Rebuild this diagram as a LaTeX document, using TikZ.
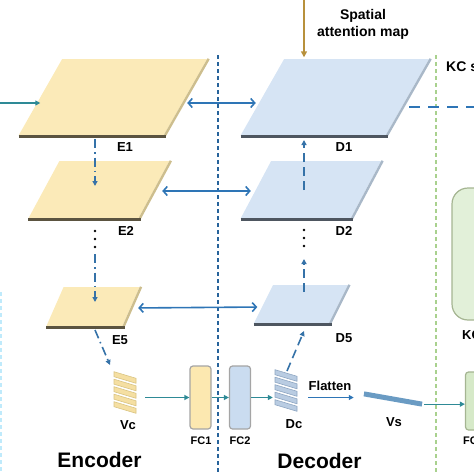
\documentclass[tikz,border=0pt]{standalone}
\usepackage{fontspec}
\setmainfont{Liberation Sans}
\usetikzlibrary{arrows.meta, positioning}
\definecolor{encfill}{HTML}{FBEAB8}
\definecolor{encbase}{HTML}{5B5440}
\definecolor{encside}{HTML}{CDBE8E}
\definecolor{decfill}{HTML}{D6E4F4}
\definecolor{decbase}{HTML}{4E5660}
\definecolor{decside}{HTML}{A9B8C8}
\definecolor{linkblue}{HTML}{2E75B6}
\definecolor{flowblue}{HTML}{3572A8}
\definecolor{flowteal}{HTML}{2E8A96}
\definecolor{gold}{HTML}{B8913C}
\definecolor{fcborder}{HTML}{A5A5A5}
\definecolor{fcenc}{HTML}{FCE8B0}
\definecolor{fcdec}{HTML}{CADCF0}
\definecolor{fckc}{HTML}{D6E9C8}
\definecolor{kcfill}{HTML}{E2F0D9}
\definecolor{kcborder}{HTML}{A5B592}
\definecolor{kcline}{HTML}{A9D18E}
\definecolor{encslat}{HTML}{F5DFA2}
\definecolor{encslatedge}{HTML}{D9C483}
\definecolor{decslat}{HTML}{B9CCE2}
\definecolor{decslatedge}{HTML}{8EA6C2}
\definecolor{vsbar}{HTML}{6A9BC3}
\tikzstyle{plane} = [rectangle, inner sep=0pt, transform shape]
\tikzstyle{enc plane} = [plane, fill=encfill]
\tikzstyle{dec plane} = [plane, fill=decfill]
\tikzstyle{enc base} = [line width=3pt, encbase]
\tikzstyle{enc side} = [line width=2.4pt, encside]
\tikzstyle{dec base} = [line width=3pt, decbase]
\tikzstyle{dec side} = [line width=2.4pt, decside]
\tikzstyle{slat} = [rectangle, inner sep=0pt, minimum width=22pt, minimum height=5pt, yslant=-0.3, line width=0.6pt]
\tikzstyle{label text} = [font=\bfseries\fontsize{13}{13}\selectfont, inner sep=0pt]
\tikzstyle{fc label} = [font=\bfseries\fontsize{11}{11}\selectfont, inner sep=0pt]
\tikzstyle{big label} = [font=\bfseries\fontsize{21}{21}\selectfont, inner sep=0pt]
\tikzstyle{fc} = [draw=fcborder, line width=1.2pt, rounded corners=3pt, minimum width=21pt, minimum height=63pt, inner sep=0pt]
\tikzstyle{skip link} = [{Straight Barb[length=4pt,width=9pt]}-{Straight Barb[length=4pt,width=9pt]}, line width=1.6pt, linkblue]
\tikzstyle{skip enc} = [-{Triangle[length=5pt,width=5pt]}, line width=1.6pt, flowblue, dash pattern=on 9pt off 4pt on 1.5pt off 4pt]
\tikzstyle{skip dec} = [-{Triangle[length=5pt,width=5pt]}, line width=1.6pt, flowblue, dash pattern=on 9pt off 5pt]
\tikzstyle{flow} = [-{Triangle[length=5pt,width=5pt]}, line width=1.3pt, flowteal]
\tikzstyle{divider} = [line width=1.2pt, dash pattern=on 4pt off 3pt]

\begin{document}
\begin{tikzpicture}[x=1pt, y=-1pt]
    \useasboundingbox (0,0) rectangle (474,474);
    \clip (0,0) rectangle (474,474);

    % Dividers.
    \node (enc top) [coordinate] at (218,55) {};
    \node (kc top) [coordinate] at (436,55) {};
    \node (left edge) [coordinate] at (1,292) {};
    \draw [divider, linkblue!85!black] (enc top) -- (enc top |- 0,476);
    \draw [divider, kcline] (kc top) -- (kc top |- 0,476);
    \draw [divider, line width=2pt, cyan!25] (left edge) -- (left edge |- 0,476);

    % Encoder planes.
    \foreach \n/\x/\y/\w/\h/\s in {E1/113/97/145/76/0.57, E2/99/189.5/110/57/0.54, E5/93/306.5/76/39/0.44} {%
        \node (\n) [enc plane, minimum width=\w pt, minimum height=\h pt, xslant=\s] at (\x,\y) {};
        \draw [enc side] ([xshift=1.2pt]\n.south east) -- ([xshift=1.2pt]\n.north east);
        \draw [enc base] ([yshift=-1.5pt]\n.south west) -- ([yshift=-1.5pt, xshift=2.4pt]\n.south east);
    }

    % Decoder planes.
    \foreach \n/\x/\y/\w/\h/\s in {D1/335/97/145/76/0.57, D2/311/189.5/110/57/0.53, D5/301/304/75/38/0.5} {%
        \node (\n) [dec plane, minimum width=\w pt, minimum height=\h pt, xslant=\s] at (\x,\y) {};
        \draw [dec side] ([xshift=1.2pt]\n.south east) -- ([xshift=1.2pt]\n.north east);
        \draw [dec base] ([yshift=-1.5pt]\n.south west) -- ([yshift=-1.5pt, xshift=2.4pt]\n.south east);
    }

    % Code stacks.
    \node (vc) [minimum width=28pt, minimum height=44pt] at (126,392) {};
    \node (dc) [minimum width=28pt, minimum height=44pt] at (287,390) {};
    \foreach \i in {1, ..., 5} {%
        \node (vc \i) [slat, fill=encslat, draw=encslatedge] at (125, {370 + 7.5*\i}) {};
        \node (dc \i) [slat, fill=decslat, draw=decslatedge] at (286, {368 + 7.5*\i}) {};
    }

    % Fully connected layers.
    \node (FC1) [fc, fill=fcenc] at (200.5,397.5) {};
    \node (FC2) [fc, fill=fcdec] at (240,397.5) {};
    \node (FC3) [fc, draw=kcborder, fill=fckc, minimum height=58pt] at (476,401) {};
    \node (vs bar) [rectangle, fill=vsbar, minimum width=59pt, minimum height=5pt, inner sep=0pt, rotate=-10] at (393,399) {};
    \node (kc box) [draw=kcborder, line width=1.2pt, fill=kcfill, rounded corners=16pt, minimum width=60pt, minimum height=132pt] at (482,254) {};

    % Labels.
    \node (E1 label) [label text] at (125,147) {E1};
    \node (E2 label) [label text] at (126,231) {E2};
    \node (E5 label) [label text] at (120,340) {E5};
    \node (D1 label) [label text] at (344,147) {D1};
    \node (D2 label) [label text] at (344,231) {D2};
    \node (D5 label) [label text] at (344,338) {D5};
    \node (vc label) [label text] at (128,425) {Vc};
    \node (dc label) [label text] at (294,424) {Dc};
    \node (vs label) [label text] at (394,422) {Vs};
    \node (flatten) [label text] at (330,386) {Flatten};
    \node (FC1 label) [fc label] at (201,441) {FC1};
    \node (FC2 label) [fc label] at (240,441) {FC2};
    \node (FC3 label) [fc label, anchor=west] at (463,441) {FC};
    \node (kc label) [label text, anchor=west] at (462,335) {KC};
    \node (kc title) [font=\bfseries\fontsize{14}{14}\selectfont, inner sep=0pt, anchor=west] at (446,67) {KC s};
    \node (encoder) [big label] at (99.5,460) {Encoder};
    \node (decoder) [big label] at (319.5,461) {Decoder};
    \node (spatial) [font=\bfseries\fontsize{14}{17}\selectfont, align=center, inner sep=0pt] at (363,24) {Spatial\\attention map};

    % Coordinates.
    \node (input) [coordinate] at (-2,103) {};
    \node (sam) [coordinate] at (304,-2) {};
    \node (e1 out) [coordinate] at (95,139) {};
    \node (e2 in) [coordinate] at (95,186) {};
    \node (dots e) [coordinate] at (95,239) {};
    \node (e5 in) [coordinate] at (95,302) {};
    \node (e5 out) [coordinate] at (95,330) {};
    \node (vc in) [coordinate] at (110,365) {};
    \node (dc out) [coordinate] at (287,371) {};
    \node (d5 in) [coordinate] at (304,331) {};
    \node (d5 out) [coordinate] at (304,292) {};
    \node (dots d) [coordinate] at (304,238) {};
    \node (d2 out) [coordinate] at (304,190) {};
    \node (d1 in) [coordinate] at (304,140) {};

    % Dots.
    \foreach \d in {-8, 0, 8} {%
        \fill (dots e) ++(0,\d) circle (1.4);
        \fill (dots d) ++(0,\d) circle (1.4);
    }

    % Paths.

    % Encoder to decoder skip links.
    \draw [skip link, shorten <=1.5pt, shorten >=6.5pt] ([yshift=-6pt]E1.east) -- ([yshift=-6pt]D1.west);
    \draw [skip link, shorten <=8pt, shorten >=5pt] ([yshift=-1.5pt]E2.east) -- ([yshift=-1.5pt]D2.west);
    \draw [skip link, shorten <=7pt, shorten >=6pt] ([yshift=-1.5pt]E5.east) -- ([yshift=-3pt]D5.west);

    % Encoder flow.
    \draw [skip enc] (e1 out) -- (e2 in);
    \draw [skip enc] ([yshift=-15pt]dots e) -- (e5 in);
    \draw [skip enc] (e5 out) -- (vc in);

    % Decoder flow.
    \draw [skip dec] (dc out) -- (d5 in);
    \draw [skip dec] (d5 out) -- ([yshift=-21pt]dots d);
    \draw [skip dec] (d2 out) -- (d1 in);

    % Bottleneck.
    \draw [flow] (input) -- ([yshift=-6pt]E1.west);
    \draw [flow, shorten <=5pt] (vc.east |- FC1.west) -- (FC1.west);
    \draw [flow] (FC1.east) -- (FC2.west);
    \draw [flow] (FC2.east) -- (dc.west |- FC2.east);
    \draw [-{Triangle[length=5pt,width=5pt]}, line width=1.5pt, linkblue, shorten <=7pt, shorten >=10pt] (dc.east |- FC2.east) -- (vs bar.west |- FC2.east);
    \draw [flow, shorten <=2pt] (vs bar.east) -- (vs bar.east -| FC3.west);

    % Attention map and KC branch.
    \draw [-{Triangle[length=6pt,width=6pt]}, line width=1.5pt, gold, shorten >=1.5pt] (sam) -- (sam |- D1.north);
    \draw [line width=1.5pt, linkblue, dash pattern=on 11pt off 8pt, shorten <=1.5pt] ([yshift=-10pt]D1.east) -- ([yshift=-10pt]D1.east -| kc box.east);
\end{tikzpicture}
\end{document}
